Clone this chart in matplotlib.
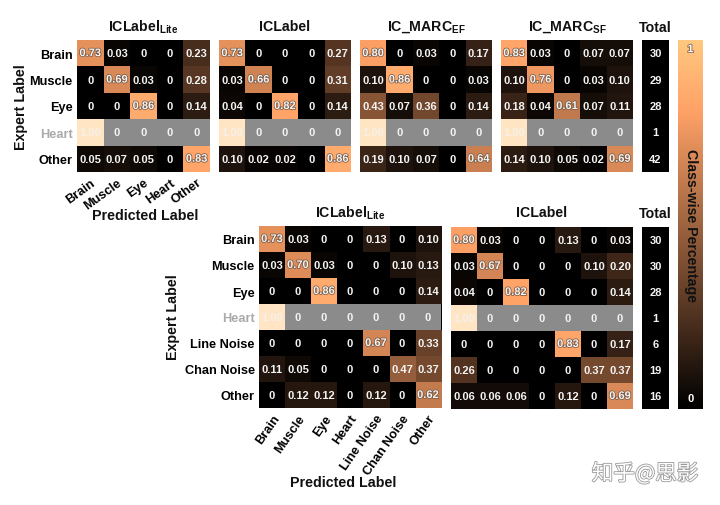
# -*- coding: utf-8 -*-
import matplotlib
matplotlib.use('Agg')
import numpy as np
from matplotlib import pyplot as plt
from matplotlib import patheffects as pe
from matplotlib.patches import Rectangle

plt.rcParams['font.family'] = ['Liberation Sans', 'Noto Sans CJK SC', 'DejaVu Sans']
plt.rcParams['font.weight'] = 'bold'
plt.rcParams['mathtext.fontset'] = 'custom'
plt.rcParams['mathtext.bf'] = 'Liberation Sans:bold'

W, H = 720, 506

labels_5 = ['Brain', 'Muscle', 'Eye', 'Heart', 'Other']
labels_7 = ['Brain', 'Muscle', 'Eye', 'Heart', 'Line Noise', 'Chan Noise', 'Other']

lite_5 = [[0.73, 0.03, 0, 0, 0.23],
          [0, 0.69, 0.03, 0, 0.28],
          [0, 0, 0.86, 0, 0.14],
          [1.00, 0, 0, 0, 0],
          [0.05, 0.07, 0.05, 0, 0.83]]
iclabel_5 = [[0.73, 0, 0, 0, 0.27],
             [0.03, 0.66, 0, 0, 0.31],
             [0.04, 0, 0.82, 0, 0.14],
             [1.00, 0, 0, 0, 0],
             [0.10, 0.02, 0.02, 0, 0.86]]
marc_ef = [[0.80, 0, 0.03, 0, 0.17],
           [0.10, 0.86, 0, 0, 0.03],
           [0.43, 0.07, 0.36, 0, 0.14],
           [1.00, 0, 0, 0, 0],
           [0.19, 0.10, 0.07, 0, 0.64]]
marc_sf = [[0.83, 0.03, 0, 0.07, 0.07],
           [0.10, 0.76, 0, 0.03, 0.10],
           [0.18, 0.04, 0.61, 0.07, 0.11],
           [1.00, 0, 0, 0, 0],
           [0.14, 0.10, 0.05, 0.02, 0.69]]
totals_5 = [30, 29, 28, 1, 42]

lite_7 = [[0.73, 0.03, 0, 0, 0.13, 0, 0.10],
          [0.03, 0.70, 0.03, 0, 0, 0.10, 0.13],
          [0, 0, 0.86, 0, 0, 0, 0.14],
          [1.00, 0, 0, 0, 0, 0, 0],
          [0, 0, 0, 0, 0.67, 0, 0.33],
          [0.11, 0.05, 0, 0, 0, 0.47, 0.37],
          [0, 0.12, 0.12, 0, 0.12, 0, 0.62]]
iclabel_7 = [[0.80, 0.03, 0, 0, 0.13, 0, 0.03],
             [0.03, 0.67, 0, 0, 0, 0.10, 0.20],
             [0.04, 0, 0.82, 0, 0, 0, 0.14],
             [1.00, 0, 0, 0, 0, 0, 0],
             [0, 0, 0, 0, 0.83, 0, 0.17],
             [0.26, 0, 0, 0, 0, 0.37, 0.37],
             [0.06, 0.06, 0.06, 0, 0.12, 0, 0.69]]
totals_7 = [30, 30, 28, 1, 6, 19, 16]


def fmt(v):
    return '0' if v == 0 else f'{v:.2f}'


def add_ax(x0, y0, x1, y1):
    # pixel box, y counted from the top of the picture
    return fig.add_axes([x0 / W, 1 - y1 / H, (x1 - x0) / W, (y1 - y0) / H])


def fig_text(x, y, s, **kw):
    return fig.text(x / W, 1 - y / H, s, ha='center', va='center', **kw)


def draw_cells(ax, data, labels, left=False, bottom=False, rot=30):
    data = np.array(data)
    n = len(data)
    ax.imshow(data, cmap='copper', vmin=0, vmax=1, aspect='auto', interpolation='nearest')
    heart = labels.index('Heart')
    ax.add_patch(Rectangle((-0.5, heart - 0.5), data.shape[1], 1, facecolor='white',
                           alpha=0.55, edgecolor='none', zorder=2))
    for i in range(n):
        for j in range(data.shape[1]):
            v = data[i, j]
            t = ax.text(j, i, fmt(v), ha='center', va='center', color='#f4f4f4',
                        fontsize=8, fontweight='bold', zorder=3)
            if v >= 0.6 and i != heart:
                t.set_path_effects([pe.withStroke(linewidth=1.1, foreground='#7a5a45')])
            if v == 1:
                t.set_alpha(0.75)
    ax.tick_params(length=0, pad=3)
    ax.set_xticks(range(n) if bottom else [])
    ax.set_yticks(range(n) if left else [])
    if left:
        ax.set_yticklabels(labels, fontsize=9.2, fontweight='bold')
        ax.get_yticklabels()[heart].set_color('#aaaaaa')
    if bottom:
        ax.set_xticklabels(labels, fontsize=9.2, fontweight='bold', rotation=rot,
                           ha='right', va='top', rotation_mode='anchor')
    for s in ax.spines.values():
        s.set_visible(False)


def draw_total(ax, totals):
    ax.imshow(np.zeros((len(totals), 1)), cmap='gray', vmin=0, vmax=1, aspect='auto')
    for i, v in enumerate(totals):
        ax.text(0, i, str(v), ha='center', va='center', color='#f4f4f4', fontsize=8)
    ax.axis('off')


fig = plt.figure(figsize=(W / 100, H / 100), dpi=100, facecolor='white')

top_panels = [(77, 210, lite_5, r'ICLabel$_{\mathbf{Lite}}$'),
              (219, 351, iclabel_5, 'ICLabel'),
              (360, 492, marc_ef, r'IC_MARC$_{\mathbf{EF}}$'),
              (501, 633, marc_sf, r'IC_MARC$_{\mathbf{SF}}$')]
for k, (x0, x1, data, title) in enumerate(top_panels):
    ax = add_ax(x0, 41, x1, 173)
    draw_cells(ax, data, labels_5, left=k == 0, bottom=k == 0, rot=36)
    fig_text((x0 + x1) / 2, 27, title, fontsize=10.2, color='#111111')
draw_total(add_ax(642, 41, 669, 173), totals_5)
fig_text(655, 28, 'Total', fontsize=10.2, color='#111111')

ax = add_ax(259, 227, 441, 409)
draw_cells(ax, lite_7, labels_7, left=True, bottom=True, rot=55)
fig_text(350, 213, r'ICLabel$_{\mathbf{Lite}}$', fontsize=10.2, color='#111111')
ax = add_ax(451, 228, 633, 410)
draw_cells(ax, iclabel_7, labels_7)
fig_text(542, 213, 'ICLabel', fontsize=10.2, color='#111111')
draw_total(add_ax(642, 228, 669, 410), totals_7)
fig_text(655, 214, 'Total', fontsize=10.2, color='#111111')

# colorbar
cax = add_ax(678, 41, 703, 410)
sm = plt.cm.ScalarMappable(norm=plt.Normalize(0, 1), cmap='copper')
cb = fig.colorbar(sm, cax=cax)
cb.set_ticks([])
cb.outline.set_visible(False)
one = cax.text(0.5, 0.975, '1', transform=cax.transAxes, ha='center', va='center',
               color='white', fontsize=8)
one.set_path_effects([pe.withStroke(linewidth=1.1, foreground='#7a5a45')])
cax.text(0.5, 0.03, '0', transform=cax.transAxes, ha='center', va='center',
         color='white', fontsize=8)
cax.text(0.5, 0.5, 'Class-wise Percentage', transform=cax.transAxes, ha='center', va='center',
         rotation=270, fontsize=10.2, color='#111111')

fig_text(21, 107, 'Expert Label', fontsize=10.3, rotation=90, color='#111111')
fig_text(145, 216, 'Predicted Label', fontsize=10.3, color='#111111')
fig_text(173, 317, 'Expert Label', fontsize=10.3, rotation=90, color='#111111')
fig_text(343, 483, 'Predicted Label', fontsize=10.3, color='#111111')

mark = fig_text(645, 475, '知乎@思影', fontsize=15.5, color='white', fontweight='normal',
                family=['Noto Sans CJK SC', 'DejaVu Sans'])
mark.set_path_effects([pe.withStroke(linewidth=1.2, foreground='#9a9a9a')])

plt.savefig('out.png', dpi=100)
